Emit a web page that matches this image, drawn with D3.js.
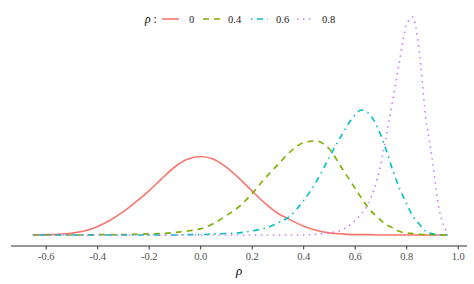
<!DOCTYPE html>
<html>
<head>
<meta charset="utf-8">
<script src="https://cdn.jsdelivr.net/npm/d3@7"></script>
<style>
  body { margin: 0; background: #fff; }
</style>
</head>
<body>
<div id="chart"></div>
<script>
// r values the densities were read at (finer around the narrow peaks)
var rGrid = [-0.65, -0.60, -0.55, -0.50, -0.45, -0.40, -0.35, -0.30, -0.25, -0.20, -0.15,
             -0.10, -0.05, 0.00, 0.05, 0.10, 0.15, 0.20, 0.25, 0.30, 0.35, 0.40, 0.45,
             0.50, 0.55, 0.60, 0.625, 0.65, 0.70, 0.725, 0.75, 0.775, 0.80, 0.825, 0.85, 0.875,
             0.90, 0.925, 0.95, 0.96];

var dens0 = [0.00, 0.01, 0.02, 0.05, 0.11, 0.23, 0.41, 0.64, 0.92, 1.22, 1.56,
             1.88, 2.10, 2.18, 2.11, 1.89, 1.58, 1.23, 0.89, 0.61, 0.42, 0.25, 0.13,
             0.06, 0.03, 0.01, 0.01, 0.01, 0.00, 0.00, 0.00, 0.00, 0.00, 0.00, 0.00, 0.00,
             0.00, 0.00, 0.00, 0.00];
var dens04 = [0.00, 0.00, 0.00, 0.00, 0.00, 0.01, 0.01, 0.01, 0.02, 0.03, 0.04,
              0.07, 0.11, 0.17, 0.31, 0.53, 0.78, 1.14, 1.56, 1.94, 2.31, 2.56, 2.61,
              2.40, 1.86, 1.31, 1.04, 0.78, 0.42, 0.28, 0.19, 0.10, 0.06, 0.04, 0.02, 0.01,
              0.01, 0.00, 0.00, 0.00];
var dens06 = [0.00, 0.00, 0.00, 0.00, 0.00, 0.00, 0.00, 0.00, 0.00, 0.00, 0.00,
              0.00, 0.01, 0.01, 0.03, 0.04, 0.06, 0.11, 0.19, 0.33, 0.53, 0.94, 1.47,
              2.14, 2.78, 3.32, 3.47, 3.40, 2.80, 2.30, 1.75, 1.28, 0.89, 0.53, 0.31, 0.11,
              0.04, 0.01, 0.00, 0.00];
var dens08 = [0.00, 0.00, 0.00, 0.00, 0.00, 0.00, 0.00, 0.00, 0.00, 0.00, 0.00,
              0.00, 0.00, 0.00, 0.00, 0.00, 0.00, 0.00, 0.00, 0.00, 0.00, 0.00, 0.02,
              0.06, 0.14, 0.39, 0.58, 0.83, 1.92, 2.85, 3.83, 4.86, 5.81, 6.05, 5.14, 3.33,
              2.17, 0.83, 0.19, 0.08];

var rhoLabels = ["0", "0.4", "0.6", "0.8"];
var xTicks = [-0.6, -0.4, -0.2, 0.0, 0.2, 0.4, 0.6, 0.8, 1.0];

var colors = ["#F8766D", "#7CAE00", "#00BFC4", "#C77CFF"];
var dashes = [null, "6,5", "1.5,4.5,6,4.5", "1.5,4.5"];
var serif = "'Liberation Serif', 'DejaVu Serif', serif";

var w = 474, h = 284;

var svg = d3.select("#chart").append("svg")
    .attr("width", w).attr("height", h);

var x = d3.scaleLinear().domain([-0.6, 1.0]).range([45.7, 457.7]);
var y = d3.scaleLinear().domain([0, 6.05]).range([235, 17]);

var series = [dens0, dens04, dens06, dens08].map(function(d, i) {
  return { label: rhoLabels[i], values: d };
});

var line = d3.line()
    .x(function(d, i) { return x(rGrid[i]); })
    .y(function(d) { return y(d); })
    .curve(d3.curveMonotoneX);

svg.selectAll("path.dens")
  .data(series)
  .enter()
  .append("path")
  .attr("class", "dens")
  .attr("fill", "none")
  .attr("stroke", function(d, i) { return colors[i]; })
  .attr("stroke-width", 1.6)
  .attr("stroke-dasharray", function(d, i) { return dashes[i]; })
  .attr("d", function(d) { return line(d.values); });

// x axis
var axisY = 246;
svg.append("line")
  .attr("x1", 11).attr("x2", 467)
  .attr("y1", axisY).attr("y2", axisY)
  .attr("stroke", "#333").attr("stroke-width", 1.1);

var ax = svg.append("g")
  .attr("transform", "translate(0," + axisY + ")")
  .call(d3.axisBottom(x).tickValues(xTicks).tickSize(3.5).tickPadding(3));
ax.attr("font-family", serif);
ax.select(".domain").remove();
ax.selectAll(".tick line").attr("stroke", "#333");
ax.selectAll(".tick text")
  .attr("fill", "#4d4d4d")
  .style("font-family", serif)
  .attr("font-size", "10.5px")
  .text(function(d) { return d3.format(".1f")(d).replace("−", "-"); });

svg.append("text")
  .attr("x", 239).attr("y", 275)
  .attr("text-anchor", "middle")
  .style("font-family", serif)
  .attr("font-size", "13px")
  .attr("font-style", "italic")
  .text("ρ");

// legend
var legY = 19;
var title = svg.append("text")
  .attr("x", 145).attr("y", legY + 3.5)
  .style("font-family", serif)
  .attr("font-size", "11.5px");
title.append("tspan").attr("font-style", "italic").text("ρ");
title.append("tspan").text(" :");

var keyX = [162, 203, 251, 297];
var leg = svg.selectAll("g.leg")
  .data(series)
  .enter()
  .append("g")
  .attr("class", "leg")
  .attr("transform", function(d, i) { return "translate(" + keyX[i] + "," + legY + ")"; });

leg.append("line")
  .attr("x1", 0).attr("x2", 17)
  .attr("stroke", function(d, i) { return colors[i]; })
  .attr("stroke-width", 1.6)
  .attr("stroke-dasharray", function(d, i) { return dashes[i]; });

leg.append("text")
  .attr("x", function(d, i) { return i == 0 ? 27 : 25; })
  .attr("y", 3.5)
  .style("font-family", serif)
  .attr("font-size", "10.5px")
  .attr("fill", "#1a1a1a")
  .text(function(d) { return d.label; });
</script>
</body>
</html>
